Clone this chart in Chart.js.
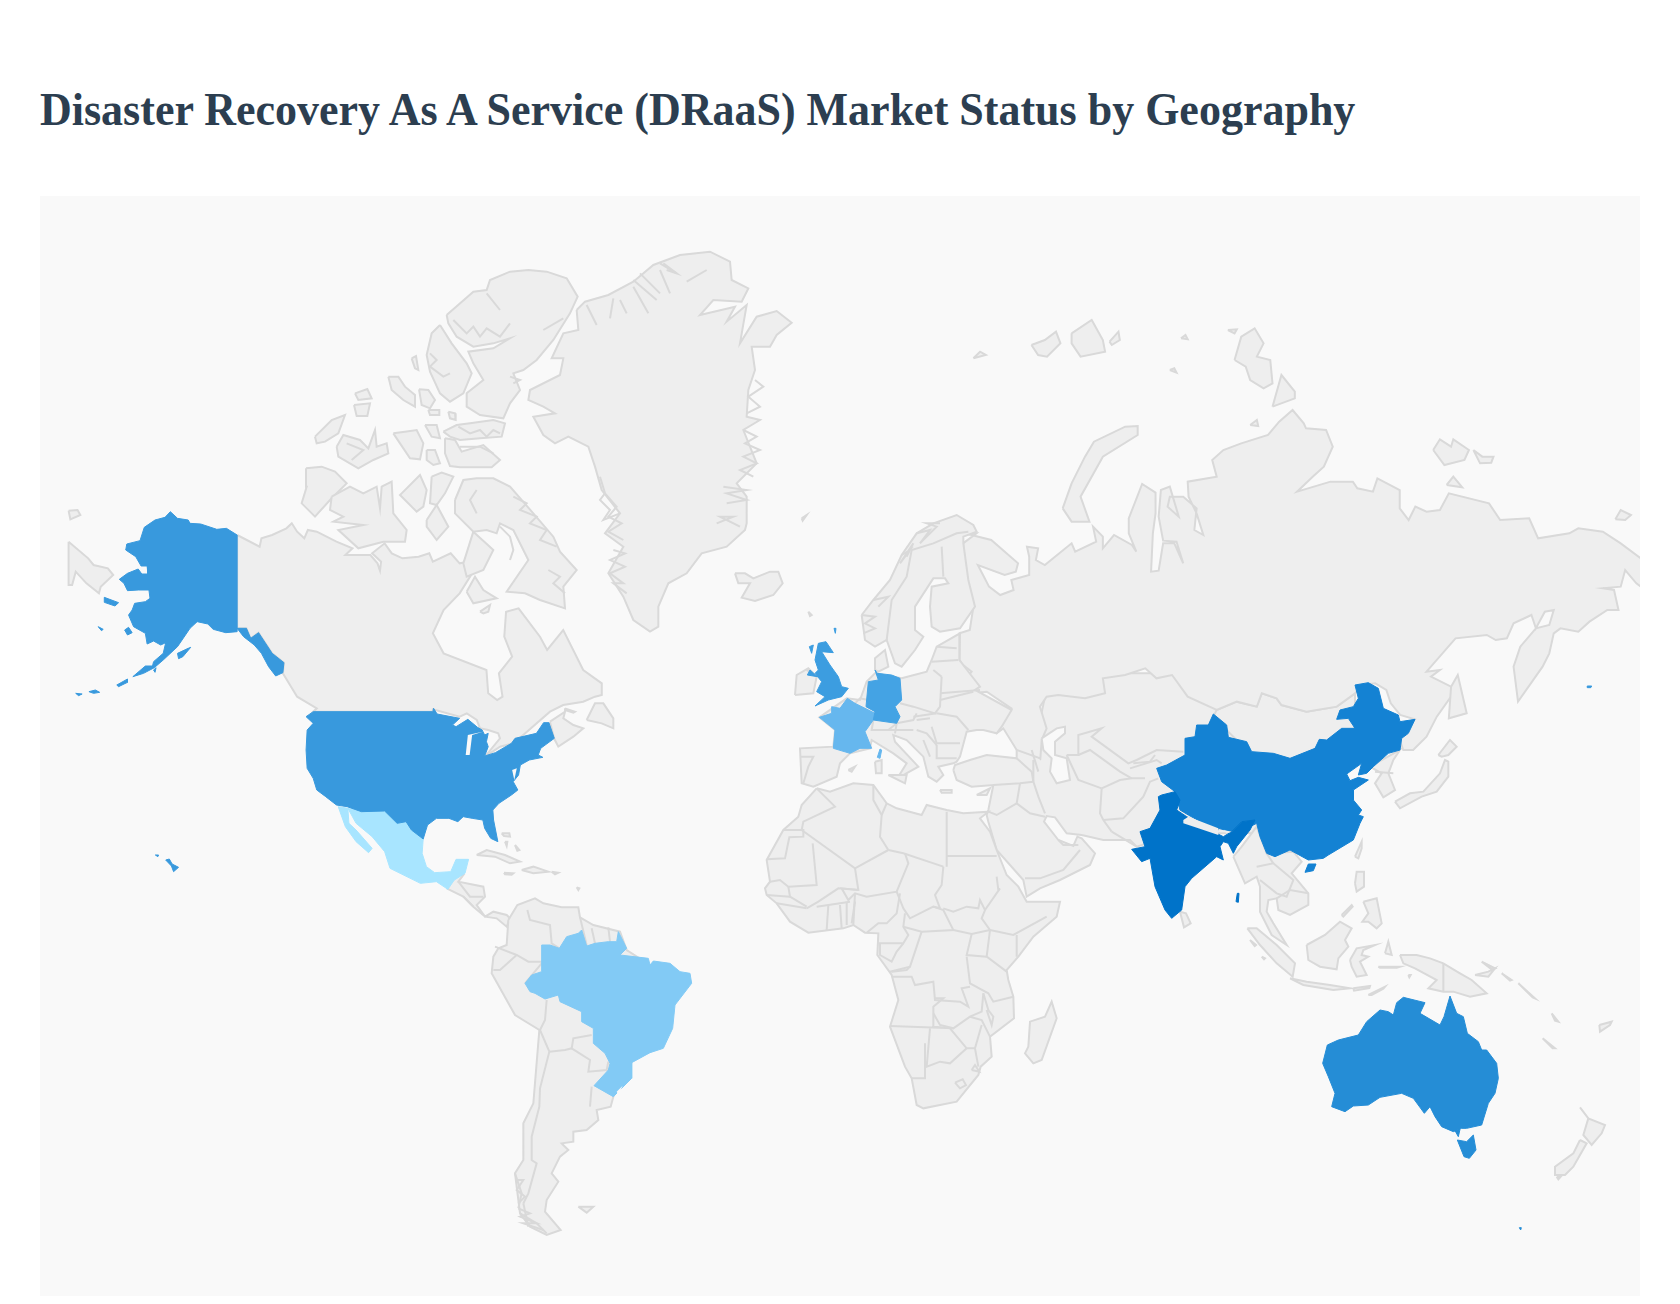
<!DOCTYPE html>
<html>
<head>
<meta charset="utf-8">
<title>DRaaS Market Status by Geography</title>
<script src="https://cdn.jsdelivr.net/npm/chart.js@4"></script>
<style>
  html, body { margin: 0; background: #fff; }
  body { position: relative; width: 1680px; height: 1304px; overflow: hidden; }
  h1 { position: absolute; left: 40px; top: 86px; margin: 0; white-space: nowrap;
       font: bold 44px "Liberation Serif", serif; color: #2c3e50;
       transform: scale(1, 1.06); transform-origin: left bottom; }
  #mapa { position: absolute; left: 40px; top: 196px; background: #f9f9f9; }
</style>
</head>
<body>
<h1>Disaster Recovery As A Service (DRaaS) Market Status by Geography</h1>
<canvas id="mapa" width="1600" height="1100"></canvas>
<script>
// outlines, flat x,y lists. each list is in the units of one sheet below
const sheets = {
  A: [40, 440, 2.8, 3], B: [280, 230, 3, 3], C: [440, 880, 3, 3], D: [760, 500, 3, 3],
  E: [740, 780, 3, 3], F: [1060, 660, 3, 3], G: [960, 300, 2.24, 3], H: [1240, 860, 3, 3],
  I: [430, 640, 3, 3], K: [1040, 700, 3, 3]
};

const canadaMain = [[552,285,615,320,620,295,650,285,690,265,705,250,720,275,740,295,750,270,775,275,830,305,875,325,855,345,925,345,945,370,952,392,955,365,930,340,965,310,985,340,1015,355,1060,350,1090,340,1100,365,1150,340,1175,370,1200,365,1210,400,1175,460,1130,510,1100,580,1130,640,1250,690,1255,760,1280,780,1295,770,1285,700,1322,650,1300,590,1305,515,1340,505,1400,590,1420,630,1465,570,1493,630,1521,690,1573,730,1573,765,1554,770,1521,785,1465,795,1428,815,1353,885,1325,910,1288,920,1246,950,1288,895,1283,880,1255,870,1232,865,1223,840,1195,820,1175,830,1100,808,1100,815,765,815,775,805,720,770,680,700,683,668,650,640,612,578,590,595,578,565,552,565]];
const chukotkaWest = [[80,305,135,355,150,375,190,385,205,405,170,440,165,460,130,430,100,395,90,435,80,435],[80,212,105,210,113,225,85,238]];
const arcticIslands = [
  [500,255,580,185,620,180,630,150,690,125,745,120,800,125,860,145,893,200,870,250,820,330,770,390,730,420,700,430,720,480,690,520,670,565,600,555,560,530,560,490,610,450,580,400,565,365,640,355,690,325,640,340,580,350,530,320,505,280],
  [480,285,515,340,560,400,575,430,550,490,510,515,480,490,450,425,440,375,455,310],
  [395,385,408,378,415,420,405,415],[325,440,355,440,375,470,405,495,405,530,370,510,335,480],
  [417,478,445,480,465,510,450,535,425,525],[445,540,478,540,478,555,450,555],[505,545,525,550,527,570,510,565],
  [105,620,155,570,195,555,175,610,135,635,110,640],
  [170,650,190,615,240,630,265,655,285,600,290,650,320,640,325,670,280,690,235,715,175,680],
  [225,490,262,477,275,505,235,510],[222,525,270,520,262,558,230,558],
  [340,610,375,605,410,600,430,640,420,688,390,685,360,640],[440,660,465,660,480,700,460,705,440,690],[435,585,470,585,480,625,455,620],
  [490,605,530,585,570,580,640,570,675,580,665,620,600,625,540,630,510,620],
  [495,625,525,630,545,665,610,645,660,690,635,712,540,712,510,708,495,670],
  [78,715,125,710,165,725,200,760,150,810,105,860,65,820,80,770],
  [155,800,210,770,250,790,290,770,300,835,305,770,335,755,340,850,380,900,375,935,310,935,235,955,175,900,250,885,160,875,190,860,150,840],
  [365,790,420,735,440,780,430,830,410,845,360,795],[455,740,485,728,520,740,495,790,470,825,450,820],[440,870,470,825,505,890,470,930,440,890],
  [525,810,550,750,590,745,640,745,690,770,760,850,820,920,840,965,890,1020,850,1070,855,1135,780,1110,735,1090,680,1085,745,990,700,900,660,880,650,910,620,900,580,905,525,850],
  [580,905,640,960,610,1020,560,1040,550,1000],[560,1085,585,1040,610,1080,650,1105,580,1120],[600,1145,630,1125,625,1145,610,1150]
];
const arcticFjords = [[520,270,560,310,580,290,600,320,620,295,660,320,690,280],[790,300,850,265],[620,190,660,240],[690,440,720,450,700,460],[450,370,470,390,450,410,490,440,510,430],[535,590,570,610,600,600,620,620,640,600,660,610],[540,650,600,650,640,670],[700,800,740,820,720,840,770,860,750,880,800,900,780,930,830,950],[805,1020,840,1040,820,1060,855,1090],[660,890,690,920,700,960,690,990],[590,780,570,810,590,850],[200,640,250,660,215,690]];
const greenland = [[890,240,915,215,985,195,1060,155,1120,105,1200,75,1290,65,1350,95,1355,150,1405,175,1385,215,1300,210,1260,255,1365,230,1340,275,1400,225,1380,340,1430,260,1490,243,1535,278,1490,315,1470,350,1415,350,1425,420,1405,480,1400,560,1440,570,1390,600,1430,700,1370,760,1400,800,1400,880,1395,900,1340,950,1265,970,1220,1030,1165,1060,1135,1130,1135,1190,1110,1205,1060,1170,1030,1100,985,1030,1030,950,975,910,1020,850,965,780,945,710,925,650,865,620,825,640,790,615,760,560,825,550,790,530,745,510,750,480,840,435,850,385,815,385,850,310,895,300]];
const iceland = [[1365,1030,1395,1030,1420,1045,1470,1025,1495,1025,1508,1060,1480,1095,1425,1113,1385,1103,1410,1060,1375,1060]];
const greenlandFjords = [[920,225,950,285],[1000,205,990,265],[1020,210,1040,250],[1060,170,1105,250],[1140,120,1170,190],[1140,100,1190,130],[1220,155,1280,120],[975,790,1010,830,985,860,1025,880,985,905,1030,930],[1000,960,1035,970,990,990,1035,1010,990,1030,1030,1060,1000,1060,1040,1090],[1330,770,1400,780,1340,790,1400,810,1340,820],[1310,880,1360,860,1320,860,1380,890],[960,740,975,790,960,810,990,840,970,870,1020,850],[1390,600,1430,620,1395,640,1440,660,1390,680,1430,700,1380,720,1420,740],[1425,450,1450,470,1405,500,1440,530,1400,550],[1060,150,1130,210],[1080,130,1140,190],[1150,100,1190,130,1160,120]];
const maritimes = [[470,240,495,190,520,190,550,235,550,265,515,250],[360,245,405,215,400,235,430,255,460,265,430,290,385,320,372,295],[405,205,435,215,430,218,405,210]];
const caribbean = [[140,645,170,630,225,645,270,665,240,670,195,650],[275,690,310,680,355,695,310,700],[222,698,250,700,245,704,225,703],[365,695,385,698,375,703],[215,580,238,580,240,590,222,588],[225,605,232,605,230,618],[255,615,268,630,262,632],[440,742,448,745,445,750]];
const centralAmerica = [[50,745,75,705,100,705,85,725,160,740,165,770,140,795,165,830,190,815,230,825,240,835,230,860,200,835,165,830,130,800,100,770]];
const centralBorders = [[85,725,120,770,160,770],[100,770,130,800]];
const southAmerica = [[205,120,232,75,285,55,310,70,365,82,415,82,420,112,460,135,540,155,560,210,700,300,600,500,520,650,512,680,470,690,475,720,440,750,400,755,400,785,365,790,385,810,360,830,335,880,355,905,320,960,315,995,362,1050,320,1065,270,1040,240,1000,225,880,250,840,250,730,280,670,298,450,225,405,155,280,160,230,175,205,200,195],[415,980,460,980,440,998]];
const southBorders = [[262,90,270,120,330,135,335,190,358,205],[165,200,230,225,265,245,305,245],[160,270,180,270,230,225],[305,250,255,310],[320,360,315,420,300,450],[300,450,328,515,300,625,298,680,275,770,275,840,290,850,265,940,250,970],[328,515,375,510,395,505,400,475,455,465],[395,505,450,540,445,575,500,570,505,545],[455,620,450,680],[420,112,440,195],[455,145,465,190],[505,142,510,185],[240,1000,290,1030,320,1060],[250,970,265,1040],[225,880,245,940,235,985],[235,985,270,1000,240,1010,290,1030,250,1030,310,1050],[225,900,250,900,230,930,255,950,235,970]];
const africa = [[230,25,270,35,340,10,400,15,440,70,470,85,545,105,560,75,620,90,670,100,745,95,720,115,750,155,770,210,800,285,835,320,860,365,960,365,950,410,880,470,835,530,800,570,805,600,820,650,822,715,750,770,755,830,722,860,715,885,650,965,550,985,530,975,515,895,495,860,450,740,475,660,455,585,412,525,415,460,375,458,340,435,310,445,205,458,150,425,110,370,80,345,75,325,90,305,80,240,130,150,175,110,185,75],[865,800,870,725,915,710,935,665,950,715,905,840,880,850,855,820]];
const africaBorders = [[230,25,285,80,190,125,185,150,130,150],[130,150,190,150,190,170,148,172,135,235,80,238],[218,190,230,315,145,320,120,300,90,305],[185,150,345,265,445,210],[400,15,400,60,425,105,420,170,445,210],[440,70,425,105],[445,210,490,220,610,260],[620,95,620,260],[620,228,770,228],[345,265,355,330,305,325,325,360,345,340,380,350,470,335,505,250,495,220],[610,260,605,315,585,345,600,385],[470,335,490,385,510,415,580,380,600,385],[145,320,150,350,200,380],[355,330,295,325,235,365,200,385],[230,380,265,375,330,365],[265,375,260,450],[300,375,305,445],[320,365,320,435],[345,365,335,430],[340,435,345,340],[380,458,415,430,440,430,470,400,480,340],[415,490,490,490,505,465,490,440,495,400],[490,440,545,455,640,450,610,390,580,380],[610,385,640,395,680,380,715,385,720,360,735,390,725,415,750,450],[640,450,695,462,750,450],[735,390,780,325],[920,410,820,465,750,450],[775,330,770,290],[830,465,830,530],[750,450,740,530,800,575],[695,462,680,525,740,530],[680,530,690,610,745,640,760,665,820,650],[545,455,510,560,450,575],[455,590,515,590,525,615,580,605,585,660,660,665,685,680,665,625,690,620],[420,490,420,525,455,545,470,515,490,490],[455,575,500,570,510,560],[585,655,610,655,580,680,580,740,640,745,450,738],[580,700,600,735,640,745,690,710,725,695,730,640],[730,640,745,690,760,710,755,735,740,690],[750,770,725,720,690,710],[630,745,680,805,705,805,725,735],[705,805,715,860],[570,745,560,860,600,845,630,850,680,805],[555,790,555,895,515,895],[695,870,705,855,718,875,695,870],[645,908,668,898,678,915,660,925,645,908],[80,345,150,350],[110,370,200,385]];
const asiaCore = [[-260,210,-255,195,-210,180,-160,165,-70,175,-70,150,-25,150,0,175,0,60,30,-80,500,-80,640,0,700,300,640,400,420,400,290,440,270,420,200,420,190,420,125,405,80,400,45,352,20,348,12,365,55,420,100,438,112,410,125,415,165,460,150,495,60,540,0,565,-40,590,-50,540,-130,450,-155,365,-160,345,-155,330,-140,255,-205,260,-250,240]];
const caspian = [[5,115,50,85,75,80,75,100,45,125,45,165,80,175,90,240,50,250,30,215,35,175,10,150]];
const asiaBorders = [[-140,255,-60,250,-20,245],[-20,180,-20,245,-5,290,15,340],[-70,310,-30,340,15,350],[-60,250,-70,310,-130,345,-155,335],[-45,535,0,535,70,510,120,450],[55,420,70,435,115,435],[80,165,115,240,185,265],[185,265,180,340,190,360,215,395],[185,265,240,240,275,235,315,235],[190,360,250,355,310,290,330,245,355,235],[80,165,115,165,115,105,185,85,155,110,265,190,290,180,350,150,430,155],[270,205,350,180,365,190],[280,190,330,185,345,165],[115,165,150,150,240,215,275,235],[-70,175,-25,215,-20,245],[-25,150,-5,215],[215,395,290,440]];
const russia = [[10,700,70,720,130,790,125,815,100,825,40,795,65,860,90,885,120,870,115,840,155,825,155,770,150,740,175,745,170,780,190,795,250,730,258,755,305,725,298,680,320,710,320,745,345,705,385,735,395,755,378,700,378,655,408,552,438,578,438,640,432,700,428,815,445,812,455,730,480,730,500,790,485,725,455,722,445,650,450,570,470,560,490,650,465,620,470,590,500,590,530,625,525,690,545,705,530,640,512,590,510,545,575,530,565,480,590,450,630,430,690,405,715,365,745,330,770,370,775,385,820,390,835,440,815,500,790,530,755,575,830,545,880,545,890,565,925,575,935,535,985,570,985,625,1005,660,1020,620,1045,635,1075,630,1095,580,1185,610,1210,660,1275,655,1295,715,1365,700,1385,685,1440,695,1480,730,1525,775,1545,790,1545,880,1515,850,1490,810,1480,860,1440,865,1465,870,1475,930,1450,930,1410,965,1385,995,1345,985,1330,1000,1320,1060,1305,1100,1250,1205,1240,1100,1255,1040,1290,985,1320,975,1330,930,1310,935,1290,985,1280,945,1240,970,1225,1015,1200,1020,1180,1005,1110,1015,1045,1115,1075,1110,1055,1130,1100,1160,1105,1180,1068,1250,1045,1310,1015,1350,993,1350,985,1320,1019,1258,986,1245,965,1210,955,1170,930,1150,900,1155,885,1180,844,1220,776,1235,720,1215,709,1195,676,1180,665,1220,620,1205,575,1230,510,1190,475,1125,440,1135,415,1105,370,1125,320,1135,325,1180,280,1195,220,1185,194,1190,179,1220,194,1285,183,1320,180,1375,127,1350,97,1285,82,1300,67,1285,115,1225,60,1175,-15,1185,26,1115,7,1095,-1,1080,-1,1000,22,990,30,920,15,840,7,730,37,700]];
const russiaIslands = [[160,135,190,120,215,95,225,130,195,170,175,165],[250,100,295,60,320,120,325,155,270,170,250,130],[335,125,355,95,358,120,340,135],[30,175,45,155,58,165],[230,625,250,550,280,470,300,425,370,380,398,378,398,405,320,470,270,590,290,665,250,665],[615,180,630,110,660,85,680,130,665,170,695,180,700,250,680,265,650,240,640,200],[700,320,720,225,750,275,750,295],[1060,450,1075,418,1100,440,1105,418,1140,450,1130,480,1085,495],[1150,450,1170,470,1195,470,1190,488,1165,490],[1090,555,1105,530,1125,562],[1468,658,1480,630,1503,645,1490,660],[1100,1160,1115,1125,1135,1240,1095,1255],[600,90,620,88,615,100],[495,115,505,105,510,118],[650,375,665,360,668,378],[470,210,480,205,485,218]];
const mongolia = [[470,150,530,125,590,140,605,100,650,115,665,135,740,155,830,140,885,100,885,140,880,250,690,300,570,280,460,170]];
const eastAsia = [[520,590,545,560,590,500,620,580,700,575,725,605,695,640,745,700,745,735,690,765,655,750,650,715,625,720,620,755,640,790,680,855,635,825,600,755,600,680,590,650,555,670],[1005,425,1050,400,1090,395,1140,340,1155,300,1165,305,1165,350,1130,395,1085,410,1020,445],[1135,285,1170,240,1190,260,1165,285,1145,290],[930,320,1020,270,1000,300,985,340,1005,390,970,412,945,370,965,340],[885,590,905,545,905,565,895,595],[360,755,378,760,392,790,372,802]];
const eastBorders = [[945,335,1000,340],[590,620,640,610,700,660,680,710,650,700,600,660],[650,715,690,690,745,700],[640,610,620,580]];
const oceania = [[345,70,350,35,372,35,372,80,350,95],[370,125,410,115,415,140,425,190,410,205,385,185,367,185,385,160],[305,165,335,135,338,140,310,170],[22,205,50,205,110,255,165,310,158,350,110,310,60,255],[150,355,200,365,270,375,330,385,280,390,190,375],[200,255,255,225,300,185,335,205,315,240,325,260,295,295,290,328,240,320,205,300],[330,300,350,265,405,255,370,270,365,285,385,290,360,305,380,345,350,350,335,320],[480,285,530,285,570,295,610,310,660,340,695,360,740,400,690,410,640,395,610,395,565,385,590,360,525,325,490,310],[705,345,745,335,765,325,745,350],[725,305,765,325,755,328],[340,385,390,378,388,384,342,392],[385,405,435,380,430,386,395,405],[785,340,815,360,810,362],[835,370,885,415,878,412],[935,460,955,485,945,482],[908,535,945,565,938,565],[1078,495,1115,485,1110,495,1080,515],[1020,742,1045,775,1095,795,1085,820,1055,855,1030,825,1045,775],[1020,840,1040,850,1000,920,975,945,945,945,945,920,1000,880],[950,950,962,950,955,958],[435,280,445,245,455,285],[415,320,480,320,470,323,420,323],[30,240,48,255,44,258],[65,290,75,295,72,298],[505,345,512,345,508,352]];
const oceaniaBorders = [[610,310,610,395]];
const scandinavia = [[305,345,340,300,390,240,425,165,470,100,520,70,590,45,640,75,650,95,610,110,610,130,625,240,645,320,600,385,540,395,515,380,510,320,515,260,565,250,555,235,520,235,465,320,465,390,490,410,465,450,425,500,405,490,380,420,345,440,315,420]];
const europeMain = [[425,535,500,515,515,480,530,440,600,400,598,480,660,560,645,570,755,630,725,680,710,700,670,690,650,690,620,695,600,770,590,785,580,790,535,800,550,825,530,845,505,830,490,770,440,720,400,705,405,725,475,800,430,825,415,830,440,790,400,760,335,720,330,745,270,760,240,790,230,830,160,860,125,850,120,745,220,740,225,690,178,652,260,595,300,600,320,545,345,520]];
const europeIslands = [[345,510,345,475,375,450,385,500,355,515],[105,585,110,525,145,505,170,530,160,580],[385,825,440,825,435,850],[345,785,365,780,365,820,348,820],[265,810,285,800,275,815],[540,870,575,870,575,878,545,878],[650,885,690,865,680,885],[125,55,140,45,128,62],[145,335,155,345,150,348]];
const europeBorders = [[380,420,395,300,440,230,455,150,520,130,590,100,625,95],[545,140,550,230],[120,770,160,770,145,800,130,850],[545,530,540,620,525,640,460,620,420,610],[515,485,595,480],[530,440,590,445],[545,530,520,510],[540,580,660,570],[540,600,640,575],[530,640,590,650,625,690],[460,650,530,640],[410,670,460,660,470,640],[470,660,510,655],[515,680,530,730,600,730],[530,735,530,775,590,775],[470,690,500,700,530,735],[490,720,510,770],[340,660,335,690,385,690,410,670,405,700],[385,690,460,690],[285,610,300,595,325,600],[140,510,172,530],[305,345,345,350,315,370,345,385,310,400],[340,300,385,290,355,320],[425,165,450,150,420,190,460,130,440,170],[470,100,510,90,480,130,530,80,500,70,540,70]];
const usaMain = [[765,815,1100,815,1102,805,1112,822,1175,835,1155,855,1165,860,1198,838,1225,862,1238,870,1245,885,1255,880,1250,905,1255,920,1245,948,1275,938,1320,910,1330,895,1390,880,1410,848,1425,848,1440,895,1402,925,1395,945,1408,952,1370,960,1345,975,1340,1005,1325,1025,1338,1050,1320,1065,1285,1090,1268,1110,1270,1140,1282,1205,1262,1195,1245,1165,1240,1140,1210,1135,1185,1130,1170,1145,1145,1135,1110,1135,1085,1155,1073,1197,1040,1170,1025,1145,1000,1150,965,1113,900,1115,860,1100,830,1095,800,1070,775,1050,765,1015,748,985,745,930,748,870,765,850,745,830]];
const alaska = [[552,285,522,265,495,268,450,252,420,250,415,240,385,235,365,215,350,232,322,240,292,262,280,302,243,312,240,330,268,350,283,378,300,378,302,402,285,402,275,387,245,400,222,418,235,430,245,452,275,450,305,450,308,475,295,485,265,490,258,510,248,525,262,560,295,580,300,612,318,603,338,615,352,608,345,640,318,665,315,678,295,678,260,710,290,700,320,683,345,660,385,620,420,565,440,545,470,552,485,568,520,578,552,575],[552,565,578,565,590,595,612,578,650,640,683,668,680,698,660,708,640,680,620,640,600,615,570,590],[385,640,415,625,422,622,400,650,388,656],[180,472,220,488,210,498,180,487],[237,570,248,562,258,578,245,585],[163,560,177,568,172,572],[215,735,245,717,245,727,220,740],[100,760,118,762,108,767],[137,755,155,750,167,757,150,760],[318,690,325,683,322,697]];
const hawaii = [[352,1260,362,1257,370,1272,388,1282,374,1295,368,1278],[323,1245,332,1245,330,1250]];
const aleutFar = [[1405,1158,1415,1158,1413,1163,1405,1163]];
const greatLakes = [[1192,945,1198,885,1220,880,1240,875,1210,885,1203,945],[1322,990,1335,985,1328,1020]];
const mexicoMain = [[862,1105,900,1115,965,1113,1000,1150,1025,1145,1040,1170,1073,1197,1070,1240,1082,1280,1105,1298,1150,1295,1165,1258,1200,1258,1190,1300,1160,1320,1142,1348,1110,1325,1065,1330,980,1285,965,1235,930,1190,885,1150],[835,1100,862,1105,865,1150,885,1170,930,1225,920,1238,885,1205,855,1160]];
const brazilMain = [[255,310,275,285,305,275,305,195,330,195,358,205,380,170,415,160,425,150,440,198,465,190,505,185,530,185,535,155,560,205,540,225,625,235,630,255,640,243,690,250,720,275,750,280,755,310,705,375,698,445,670,505,630,518,575,548,575,595,520,650,462,617,505,570,510,550,495,520,460,490,460,445,425,425,425,395,360,365,355,345,315,357,285,340,270,335]];
const brazilLagoon = [[530,635,548,617,535,645]];
const ukMain = [[165,618,205,600,245,590,265,565,245,560,235,530,210,495,185,455,220,458,198,425,175,430,165,480,175,510,165,520,185,545,170,575,195,590],[142,525,150,510,172,530],[148,440,160,435,155,460],[222,385,228,385,226,400]];
const germanyMain = [[345,510,352,520,395,525,420,535,425,600,405,620,420,650,410,670,340,660,345,635,318,620,325,545,355,540]];
const franceMain = [[262,595,285,610,345,640,340,660,315,695,335,745,300,745,270,760,220,745,225,690,178,652,215,640,215,620,240,625],[352,772,360,747,365,750,360,775]];
const chinaMain = [[460,162,500,195,505,232,560,245,575,275,640,280,690,295,765,265,778,238,800,240,845,205,885,205,865,175,830,178,840,150,880,140,895,115,885,75,925,68,955,85,970,145,1015,165,1020,185,1065,178,1045,220,1025,235,1020,270,985,280,940,320,920,340,895,345,905,310,860,342,870,362,895,352,925,360,880,390,880,420,905,450,895,465,910,470,900,490,880,540,805,585,790,595,745,600,690,570,645,590,620,580,600,530,590,490,570,500,585,480,545,485,515,515,475,505,440,495,385,465,360,450,345,395,305,365,290,325,320,315,375,285,375,235,405,230,410,195,445,195],[735,637,745,612,768,612,760,632]];
const indiaMain = [[305,405,345,395,360,420,350,450,380,470,420,490,475,505,470,520,490,530,515,515,545,485,585,480,570,510,530,560,520,580,505,550,490,545,480,560,490,600,470,590,395,655,375,680,365,750,335,775,315,750,285,680,270,595,245,605,215,568,255,560,240,515,270,505,300,450,295,410],[528,725,532,700,537,700,535,727]];
const himalayaGaps = [[370,480,385,470,475,505,475,525,415,505,370,490],[490,510,515,515,500,520]];
const australiaMain = [[248,610,262,555,295,540,355,525,380,485,420,450,445,455,460,465,470,428,490,412,555,428,540,460,600,495,612,470,630,408,650,460,670,470,682,520,715,545,725,570,740,570,770,610,775,655,765,700,745,730,725,795,680,805,665,805,640,815,605,800,585,770,570,740,553,760,520,715,485,700,420,712,385,735,340,738,315,755,275,740,285,700,265,650],[652,840,680,845,700,825,708,870,688,895,672,890],[645,812,660,808,655,830],[838,1103,844,1103,842,1110]];

// highlighted countries and the blue each one carries on the map
const countries = ['United States', 'China', 'India', 'Australia', 'United Kingdom', 'Germany', 'France', 'Brazil', 'Mexico'];
const countryBlues = ['#3899dd', '#1482d3', '#0073c9', '#258dd6', '#3c9de0', '#44a3e4', '#66b7ee', '#82caf5', '#a8e5ff'];

const landFill = '#eeeeee';
const landLine = '#d9d9d9';
const seaFill = '#f9f9f9';
const lineWidth = 2;

const datasets = [];

function toPoints(sheet, flat) {
  const [ox, oy, sx, sy] = sheets[sheet];
  const pts = [];
  for (let i = 0; i < flat.length; i += 2) {
    pts.push({ x: ox + flat[i] / sx, y: oy + flat[i + 1] / sy });
  }
  return pts;
}

function addShapes(sheet, shapes, fill, line, width) {
  for (const flat of shapes) {
    const pts = toPoints(sheet, flat);
    pts.push(pts[0]);
    datasets.push({ data: pts, showLine: true, fill: 'shape', backgroundColor: fill, borderColor: line, borderWidth: width, pointRadius: 0, tension: 0 });
  }
}

function addLand(sheet, shapes) {
  addShapes(sheet, shapes, landFill, landLine, lineWidth);
}

function addLines(sheet, lines) {
  for (const flat of lines) {
    datasets.push({ data: toPoints(sheet, flat), showLine: true, fill: false, borderColor: landLine, borderWidth: lineWidth, pointRadius: 0, tension: 0 });
  }
}

function addCountry(name, sheet, shapes) {
  const blue = countryBlues[countries.indexOf(name)];
  addShapes(sheet, shapes, blue, blue, 1);
}

// bottom layers first
addLand('K', asiaCore);
addLand('F', mongolia);
addLand('G', russia);
addLand('G', russiaIslands);
addLand('A', chukotkaWest);
addShapes('K', caspian, seaFill, landLine, lineWidth);
addLines('K', asiaBorders);
addLand('F', eastAsia);
addLines('F', eastBorders);
addLand('H', oceania);
addLines('H', oceaniaBorders);
addLand('D', europeMain);
addLand('D', scandinavia);
addLand('D', europeIslands);
addLines('D', europeBorders);
addLand('E', africa);
addLines('E', africaBorders);
addLand('A', canadaMain);
addLand('B', arcticIslands);
addLines('B', arcticFjords);
addLand('B', greenland);
addLines('B', greenlandFjords);
addLand('B', iceland);
addLand('I', maritimes);
addLand('I', caribbean);
addLand('I', centralAmerica);
addLines('I', centralBorders);
addLand('C', southAmerica);
addLines('C', southBorders);

addCountry('Mexico', 'A', mexicoMain);
addCountry('United States', 'A', usaMain);
addCountry('United States', 'A', alaska);
addCountry('United States', 'A', hawaii);
addCountry('United States', 'G', aleutFar);
addShapes('A', greatLakes, seaFill, seaFill, 0);
addCountry('Brazil', 'C', brazilMain);
addShapes('C', brazilLagoon, seaFill, seaFill, 0);
addCountry('France', 'D', franceMain);
addCountry('United Kingdom', 'D', ukMain);
addCountry('Germany', 'D', germanyMain);
addCountry('China', 'F', chinaMain);
addCountry('India', 'F', indiaMain);
addShapes('F', himalayaGaps, landFill, landFill, 0);
addCountry('Australia', 'H', australiaMain);

// chart.js paints the first dataset last, so flip the stack
new Chart(document.getElementById('mapa'), {
  type: 'scatter',
  data: { datasets: datasets.reverse() },
  options: {
    responsive: false,
    animation: false,
    devicePixelRatio: 1,
    layout: { padding: 0 },
    plugins: { legend: { display: false }, tooltip: { enabled: false }, title: { display: false } },
    scales: {
      x: { type: 'linear', display: false, min: 40, max: 1640 },
      y: { type: 'linear', display: false, min: 196, max: 1296, reverse: true }
    }
  }
});
</script>
</body>
</html>
